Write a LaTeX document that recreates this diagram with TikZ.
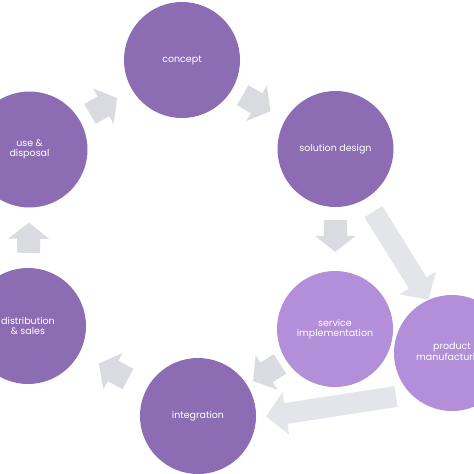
\documentclass[tikz,border=0pt]{standalone}
\usepackage{fontspec}
\setmainfont{Poppins}
\usetikzlibrary{arrows.meta}
\definecolor{stagedark}{HTML}{8C6DB4}
\definecolor{stagelight}{HTML}{B38FDA}
\definecolor{arrowgray}{HTML}{D9DBE1}
\definecolor{arrowpale}{HTML}{E4E4EB}
\begin{document}
\begin{tikzpicture}
    [x=1pt,y=-1pt,
     stage/.style={circle,fill=stagedark,text=white,minimum size=116pt,inner sep=0pt,align=center,font=\fontsize{9.5}{10.5}\selectfont},
     lightstage/.style={stage,fill=stagelight},
     flow/.style={draw=arrowgray,line width=23pt,-{Triangle[length=16pt,width=40pt]}},
     bigflow/.style={draw=arrowpale,line width=21pt,-{Triangle[length=20pt,width=42pt]}}]
    \useasboundingbox (0,0) rectangle (474,474);
    \clip (0,0) rectangle (474,474);
    \node[stage] (concept) at (182,60) {concept};
    \node[stage] (solution) at (335.5,149) {solution design};
    \node[lightstage] (service) at (335,329) {service\\implementation};
    \node[lightstage] (product) at (452,353) {product\\manufacturing};
    \node[stage] (integration) at (198,416) {integration};
    \node[stage] (distribution) at (28,326) {distribution\\\& sales};
    \node[stage] (use) at (29.5,149.5) {use \&\\disposal};
    
    \draw[flow,shorten <=12pt,shorten >=17pt] (use) -- (concept);
    \draw[flow,shorten <=12pt,shorten >=17pt] (concept) -- (solution);
    \draw[flow,shorten <=13pt,shorten >=19pt] (solution) -- (service);
    \draw[flow,shorten <=7pt,shorten >=7pt] (service) -- (integration);
    \draw[flow,shorten <=21pt,shorten >=22pt] (integration) -- (distribution);
    \draw[flow,shorten <=15pt,shorten >=15pt] (distribution) -- (use);
    \draw[bigflow,shorten <=15pt] (solution.-59) -- (product.114);
    \draw[bigflow,shorten <=15pt,shorten >=10pt] (product.225) -- (integration.-2);
  \end{tikzpicture}
\end{document}
